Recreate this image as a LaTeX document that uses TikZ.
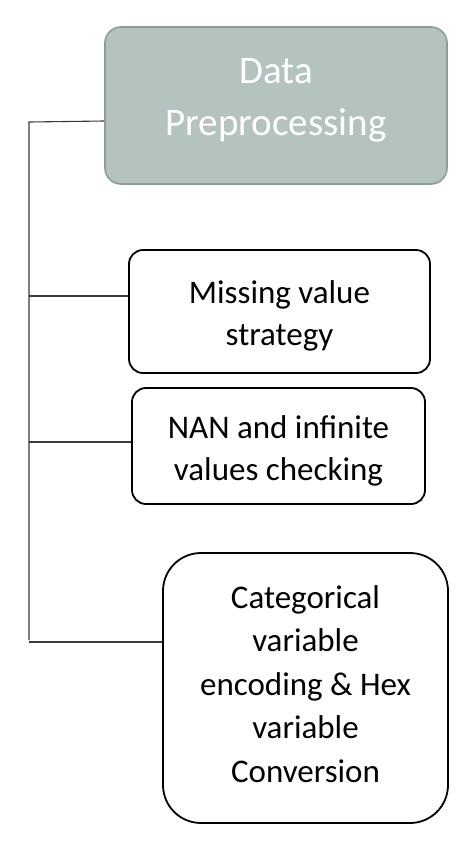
\documentclass[tikz,border=0pt]{standalone}
\usepackage{fontspec}
\setmainfont{Carlito}
\definecolor{topfill}{HTML}{B5C3C0}
\definecolor{topdraw}{HTML}{8E9C99}
\definecolor{linegray}{HTML}{3A3A3A}
\begin{document}
\begin{tikzpicture}[x=1pt,y=-1pt,
  topbox/.style={draw=topdraw,line width=1.6pt,fill=topfill,rounded corners=16pt,inner sep=0pt},
  subbox/.style={draw=black,line width=1.8pt,fill=white,rounded corners=14pt,inner sep=0pt},
  toptext/.style={text=white,align=center,font=\fontsize{39}{52}\selectfont,inner sep=0pt},
  subtext/.style={text=black,align=center,font=\fontsize{33}{42.5}\selectfont,inner sep=0pt},
  conn/.style={draw=linegray,line width=1.1pt}]
\useasboundingbox[fill=white] (0,0) rectangle (474,852);
% boxes
\node[topbox,minimum width=342pt,minimum height=157pt] (dp) at (276,105.5) {};
\node[toptext] (dpt) at (276,100) {Data\\Preprocessing};
\node[subbox,minimum width=301pt,minimum height=123pt] (mv) at (279.5,311.5) {};
\node[subtext] (mvt) at (279.5,316) {Missing value\\strategy};
\node[subbox,minimum width=293pt,minimum height=116pt] (nan) at (278.5,446) {};
\node[subtext] (nant) at (278.5,451) {NAN and infinite\\values checking};
\node[subbox,rounded corners=38pt,minimum width=285pt,minimum height=270pt] (cat) at (305.5,688) {};
\node[subtext,font=\fontsize{33}{43.5}\selectfont] (catt) at (305.5,684) {Categorical\\variable\\encoding \& Hex\\variable\\Conversion};
% connectors
\coordinate (top) at (29,122);
\coordinate (bot) at (29,640);
\draw[conn] (dp.west |- 0,121) -- (top) -- (bot);
\draw[conn] (mv.west |- 0,296) -- (top |- 0,296);
\draw[conn] (nan.west |- 0,442) -- (top |- 0,442);
\draw[conn] (cat.west |- 0,642) -- (bot |- 0,642);
\end{tikzpicture}
\end{document}
